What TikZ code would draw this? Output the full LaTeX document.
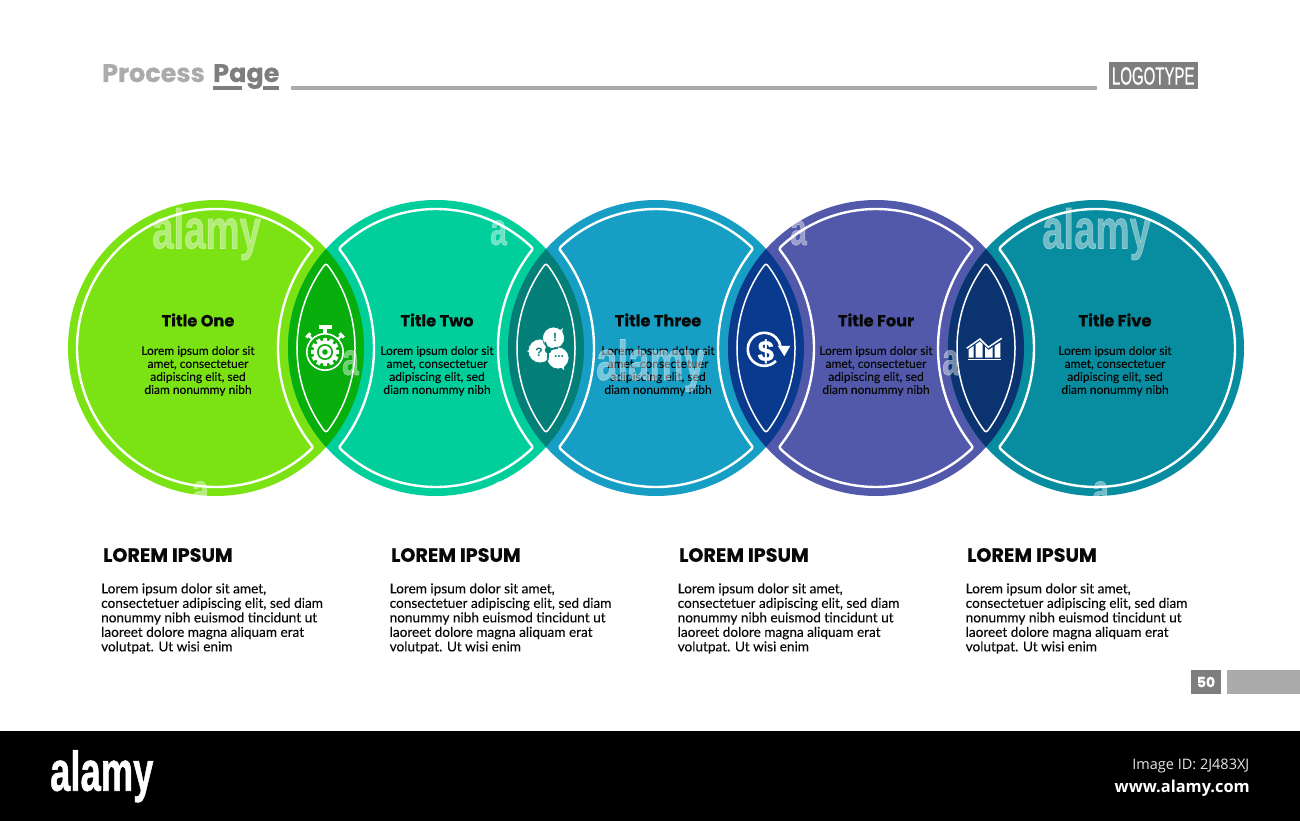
\documentclass[tikz,border=0pt]{standalone}
\usepackage{fontspec}
\setmainfont{Lato}
\newfontfamily\blackfam{Poppins}[BoldFeatures={FakeBold=0.5}]
\newcommand{\blackf}{\blackfam\bfseries}
\newfontfamily\medf{Lato}[UprightFeatures={FakeBold=0.2}]
\newfontfamily\arialf{Liberation Sans}
\newfontfamily\markfam{Liberation Sans}[BoldFeatures={FakeBold=1.2}]
\newfontfamily\logof{Liberation Sans}[UprightFeatures={FakeBold=0.5}]
\newfontfamily\openf{Open Sans}
\definecolor{cA}{HTML}{7BE314}
\definecolor{cB}{HTML}{00CF9C}
\definecolor{cC}{HTML}{179EC5}
\definecolor{cD}{HTML}{5359AA}
\definecolor{cE}{HTML}{078D9F}
\definecolor{lA}{HTML}{07AE0C}
\definecolor{lB}{HTML}{047F77}
\definecolor{lC}{HTML}{0A3A8D}
\definecolor{lD}{HTML}{0A336F}
\definecolor{grayL}{HTML}{ABABAB}
\definecolor{grayD}{HTML}{7E7E7E}
\definecolor{inkc}{HTML}{080808}
\tikzset{
  wline/.style={draw=white,line width=2.4pt,line join=round},
  lensline/.style={draw=white,line width=1.5pt,line join=round},
  titletext/.style={inner sep=0pt,text=inkc,font={\blackf\fontsize{16.2}{19}\selectfont}},
  smalltext/.style={inner sep=0pt,align=center,text=inkc,font={\medf\fontsize{12}{13}\selectfont}},
  headtext/.style={inner sep=0pt,anchor=west,text=inkc,font={\blackf\fontsize{19.2}{22}\selectfont}},
  lowertext/.style={inner sep=0pt,anchor=west,align=left,text=inkc,font={\medf\fontsize{13.6}{14.5}\selectfont}},
  markw/.style={inner sep=0pt,text=white,opacity=0.42,font={\markfam\bfseries\fontsize{56}{56}\selectfont}},
  smallw/.style={inner sep=0pt,text=white,opacity=0.42,font={\markfam\bfseries\fontsize{46}{46}\selectfont}},
  bubble/.style={draw=lB,line width=0.7pt,fill=white},
  bubblemark/.style={inner sep=0pt,text=lB,font={\arialf\bfseries\fontsize{12}{12}\selectfont}},
}
\newcommand{\condensed}[1]{\scalebox{0.65}[1]{#1}}
\newcommand{\markcond}[1]{\scalebox{0.685}[1]{#1}}
\newcommand{\lensfill}[3]{\begin{scope}\clip (#1,348) circle[radius=148pt];\fill[#3] (#2,348) circle[radius=148pt];\end{scope}}
\newcommand{\lensoutline}[1]{\begin{scope}[shift={(#1,348)}]
  \draw[lensline] (3.6,80.1) arc[start angle=-35.2,end angle=35.2,radius=139pt]
    .. controls (0,-85) .. (-3.6,-80.1) arc[start angle=144.8,end angle=215.2,radius=139pt]
    .. controls (0,85) .. (3.6,80.1) -- cycle;
\end{scope}}
\begin{document}
\begin{tikzpicture}[x=1pt,y=-1pt]
\useasboundingbox (0,0) rectangle (1300,821);
\fill[white] (0,0) rectangle (1300,821);
% header
\node[inner sep=0pt,anchor=base west,text=grayL,font={\blackf\fontsize{25.5}{28}\selectfont}] (headA) at (102,82) {Process};
\node[inner sep=0pt,anchor=base west,text=grayD,font={\blackf\fontsize{25.5}{28}\selectfont}] (headB) at (213,82) {Page};
\fill[grayD] (213,86) rectangle (242,90);
\fill[grayD] (263,86) rectangle (279,90);
\fill[grayL] (291,86) rectangle (1097,90);
\fill[grayD] (1108.5,62) rectangle (1198,89.5);
\node[inner sep=0pt,text=white,font={\logof\fontsize{25}{25}\selectfont}] (logo) at (1153.2,76) {\scalebox{0.6}[1]{LOGOTYPE}};
% circles
\fill[cA] (216,348) circle[radius=148pt];
\fill[cB] (436,348) circle[radius=148pt];
\fill[cC] (656,348) circle[radius=148pt];
\fill[cD] (876,348) circle[radius=148pt];
\fill[cE] (1096,348) circle[radius=148pt];
\lensfill{216}{436}{lA}
\lensfill{436}{656}{lB}
\lensfill{656}{876}{lC}
\lensfill{876}{1096}{lD}
% outlines
\begin{scope}[shift={(216,348)}]
\draw[wline] (93.73,-102.64) arc[start angle=47.6,end angle=312.4,radius=139pt]
  .. controls (97.2,99.4) .. (94.15,95.52) arc[start angle=217.2,end angle=142.8,radius=158pt]
  .. controls (97.2,-99.4) .. (93.73,-102.64) -- cycle;
\end{scope}
\foreach \cx in {436,656,876}{
\begin{scope}[shift={(\cx,348)}]
\draw[wline] (93.73,-102.64) arc[start angle=47.6,end angle=132.4,radius=139pt]
  .. controls (-97.2,-99.4) .. (-94.15,-95.52) arc[start angle=37.2,end angle=-37.2,radius=158pt]
  .. controls (-97.2,99.4) .. (-93.73,102.64) arc[start angle=227.6,end angle=312.4,radius=139pt]
  .. controls (97.2,99.4) .. (94.15,95.52) arc[start angle=217.2,end angle=142.8,radius=158pt]
  .. controls (97.2,-99.4) .. (93.73,-102.64) -- cycle;
\end{scope}}
\begin{scope}[shift={(1096,348)}]
\draw[wline] (-93.73,102.64) arc[start angle=227.6,end angle=492.4,radius=139pt]
  .. controls (-97.2,-99.4) .. (-94.15,-95.52) arc[start angle=37.2,end angle=-37.2,radius=158pt]
  .. controls (-97.2,99.4) .. (-93.73,102.64) -- cycle;
\end{scope}
\lensoutline{326}
\lensoutline{546}
\lensoutline{766}
\lensoutline{986}
% stopwatch icon
\begin{scope}[shift={(325,352)}]
\draw[white,line width=1.6pt] (0,0) circle[radius=18.2pt];
\fill[white] (-6.5,-27) rectangle (6.5,-23);
\fill[white] (-2.2,-24) rectangle (2.2,-18);
\foreach \a in {45,-45}{\begin{scope}[rotate=\a]
  \fill[white] (-1.2,-23) rectangle (1.2,-18);
  \fill[white] (-3,-25) rectangle (3,-22);
\end{scope}}
\foreach \a in {0,30,...,330}{\begin{scope}[rotate=\a]\fill[white] (-2,-14.4) rectangle (2,-9);\end{scope}}
\fill[white] (0,0) circle[radius=11.8pt];
\fill[lA] (0,0) circle[radius=8pt];
\fill[white] (0,0) circle[radius=6.2pt];
\fill[lA] (0,0) circle[radius=2.8pt];
\end{scope}
% bubbles icon
\begin{scope}[shift={(550,349)}]
\draw[bubble] (-10,2) circle[radius=12pt];
\draw[bubble] (3.5,-11) circle[radius=11pt];
\draw[bubble] (8,9) circle[radius=11pt];
\fill[white] (-23.3,2) .. controls (-18,1) .. (-12,-8) -- (-12,10) .. controls (-18,4) .. (-23.3,2) -- cycle;
\fill[white] (12.7,-21) .. controls (10,-18) .. (1,-21) -- (13.5,-7) .. controls (12,-14) .. (12.7,-21) -- cycle;
\fill[white] (14,21) .. controls (10,17) .. (3,18.5) -- (17.5,13) .. controls (14,16) .. (14,21) -- cycle;
\fill[lB] (-1.8,1) circle[radius=3.4pt];
\draw[lB,line width=1.4pt] (-1.8,1) -- (-5,-7) (-1.8,1) -- (-2,11) (-1.8,1) -- (8,-1);
\node[bubblemark] (qm) at (-11,3) {?};
\node[bubblemark] (ex) at (5,-12) {!};
\node[bubblemark] (el) at (9,8) {...};
\end{scope}
% dollar icon
\begin{scope}[shift={(764.3,349.3)}]
\draw[white,line width=2.6pt] ({16.5*cos(45)},{16.5*sin(45)}) arc[start angle=-45,end angle=-352,radius=16.5pt];
\fill[white] (13.5,-3.5) -- (26,-3.5) -- (20,7) -- cycle;
\node[inner sep=0pt,text=white,font={\markfam\bfseries\fontsize{29}{29}\selectfont}] (dollar) at (1.5,2) {\$};
\end{scope}
% chart icon
\draw[white,line width=1.5pt,line join=miter] (966.7,348.3) -- (980,339) -- (988.3,347.3) -- (1001.7,338.3);
\fill[white] (968.5,349.5) -- (973.5,346) -- (973.5,357.7) -- (968.5,357.7) -- cycle;
\fill[white] (975.5,344.5) -- (980,341.5) -- (982.5,344) -- (982.5,357.7) -- (975.5,357.7) -- cycle;
\fill[white] (985,346.5) -- (988.3,350) -- (992.5,347.3) -- (992.5,357.7) -- (985,357.7) -- cycle;
\fill[white] (994.5,346) -- (1000.3,342.3) -- (1000.3,357.7) -- (994.5,357.7) -- cycle;
\fill[white] (967.7,358.7) rectangle (1001,360.2);
% titles
\node[titletext] (t1) at (198,320) {Title One};
\node[titletext] (t2) at (437,320) {Title Two};
\node[titletext] (t3) at (658,320) {Title Three};
\node[titletext] (t4) at (876,320) {Title Four};
\node[titletext] (t5) at (1115,320) {Title Five};
\foreach \x/\n in {198/1,437/2,658/3,876/4,1115/5}{
\node[smalltext] (b\n) at (\x,371) {Lorem ipsum dolor sit\\amet, consectetuer\\adipiscing elit, sed\\diam nonummy nibh};}
\foreach \x/\y/\n in {103/101/1,391/389.5/2,679/677.5/3,967/965.5/4}{
\node[headtext] (h\n) at (\x,555) {LOREM IPSUM};
\node[lowertext] (p\n) at (\y,618.5) {Lorem ipsum dolor sit amet,\\consectetuer adipiscing elit, sed diam\\nonummy nibh euismod tincidunt ut\\laoreet dolore magna aliquam erat\\volutpat. Ut wisi enim};}
% page number
\fill[grayD] (1191,670) rectangle (1221,694);
\node[inner sep=0pt,text=white,font={\blackf\fontsize{14}{14}\selectfont}] (pg) at (1206,682) {50};
\fill[grayL] (1227,670) rectangle (1300,694);
% footer
\fill[black] (0,731) rectangle (1300,821);
\node[inner sep=0pt,anchor=base west,text=white,font={\markfam\bfseries\fontsize{56}{56}\selectfont}] (fa) at (50,790.7) {\condensed{alamy}};
\node[inner sep=0pt,anchor=base east,text=white!90!black,font={\openf\fontsize{14.5}{14.5}\selectfont}] (fid) at (1249.5,769) {Image ID: 2J483XJ};
\node[inner sep=0pt,anchor=base east,text=white,font={\openf\bfseries\fontsize{16.4}{16.4}\selectfont}] (fw) at (1250,792) {www.alamy.com};
% watermarks
\node[markw,anchor=base west] (w1) at (152,248.5) {\markcond{alamy}};
\node[markw,anchor=base west] (w2) at (1042,248.5) {\markcond{alamy}};
\node[markw,anchor=base west] (w3) at (596,380) {\markcond{alamy}};
\foreach \x/\y/\n in {342/375/a,942/375/b,490/245/c,790/245/d,192/506/e,1092/506/f,492/506/g}{
\node[smallw,anchor=base west] (s\n) at (\x,\y) {\condensed{a}};}
\end{tikzpicture}
\end{document}
